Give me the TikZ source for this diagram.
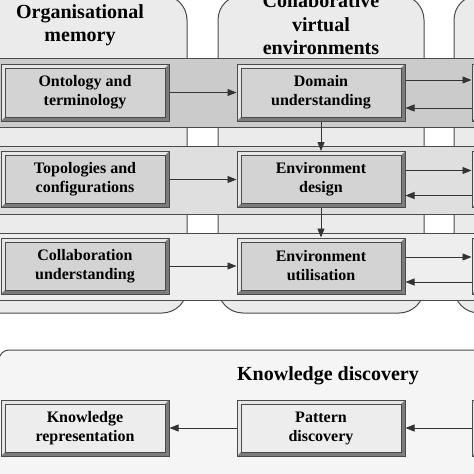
\documentclass[tikz,border=0pt]{standalone}
\usepackage{fontspec}
\setmainfont{Liberation Serif}
\usetikzlibrary{arrows.meta}
\definecolor{colfill}{HTML}{EBEBEB}
\definecolor{bandA}{HTML}{CBCBCB}
\definecolor{bandB}{HTML}{DFDFDF}
\definecolor{bandC}{HTML}{EEEEEE}
\definecolor{boxdark}{HTML}{D3D3D3}
\definecolor{boxlight}{HTML}{EDEDED}
\definecolor{kdfill}{HTML}{F5F5F5}
\definecolor{linec}{HTML}{4A4A4A}
\definecolor{bevlt}{HTML}{E6E6E6}
\definecolor{bevdk}{HTML}{7B7B7B}
\newcommand{\boxfont}{\bfseries\fontsize{16}{19}\selectfont}
\newcommand{\titfont}{\bfseries\fontsize{20}{23.5}\selectfont}
\tikzset{
  colpanel/.style={draw=linec, line width=1pt, fill=colfill, rounded corners=25pt},
  bandrect/.style={draw=linec, line width=1pt, fill=#1},
  kdpanel/.style={draw=linec, line width=1pt, fill=kdfill, rounded corners=10pt},
  bevbox/.style={rectangle, draw=linec, line width=1pt, fill=#1,
    minimum width=168pt, minimum height=56pt, inner sep=0pt, align=center,
    font=\boxfont,
    path picture={
      \fill[bevlt] (path picture bounding box.north west) -- (path picture bounding box.north east)
        -- ([xshift=-4pt,yshift=-4pt]path picture bounding box.north east)
        -- ([xshift=4pt,yshift=-4pt]path picture bounding box.north west) -- cycle;
      \fill[bevlt] (path picture bounding box.north west) -- (path picture bounding box.south west)
        -- ([xshift=4pt,yshift=4pt]path picture bounding box.south west)
        -- ([xshift=4pt,yshift=-4pt]path picture bounding box.north west) -- cycle;
      \fill[bevdk] (path picture bounding box.north east) -- (path picture bounding box.south east)
        -- ([xshift=-4pt,yshift=4pt]path picture bounding box.south east)
        -- ([xshift=-4pt,yshift=-4pt]path picture bounding box.north east) -- cycle;
      \fill[bevdk] (path picture bounding box.south west) -- (path picture bounding box.south east)
        -- ([xshift=-4pt,yshift=4pt]path picture bounding box.south east)
        -- ([xshift=4pt,yshift=4pt]path picture bounding box.south west) -- cycle;
      \draw[linec, line width=0.8pt] ([xshift=4pt,yshift=-4pt]path picture bounding box.north west)
        rectangle ([xshift=-4pt,yshift=4pt]path picture bounding box.south east);
    }},
  title/.style={font=\titfont, align=center, inner sep=0pt},
  arr/.style={draw=black!80, line width=0.9pt, -{Triangle[length=9pt,width=7pt]}}
}
\begin{document}
\begin{tikzpicture}[x=1pt,y=-1pt]
\useasboundingbox (0,0) rectangle (474,474);
\clip (0,0) rectangle (474,474);
% column panels
\path[colpanel] (-40,-5) rectangle (187,313);
\path[colpanel] (218,-5) rectangle (424,313);
\path[colpanel] (454,-5) rectangle (700,313);
% bands
\path[bandrect=bandA] (-10,58) rectangle (490,127);
\path[bandrect=bandB] (-10,146) rectangle (490,214);
\path[bandrect=bandC] (-10,233) rectangle (490,300);
% knowledge discovery panel
\path[kdpanel] (-1,350) rectangle (700,700);
% titles
\node[title] (tom) at (80,25.3) {Organisational\\memory};
\node[title] (tcve) at (321,24.5) {Collaborative\\virtual\\environments};
\node[title] (tkd) at (328,375.3) {Knowledge discovery};
% boxes
\node[bevbox=boxdark, minimum height=57pt] (ont) at (85,92.5) {Ontology and\\terminology};
\node[bevbox=boxdark, minimum height=57pt] (dom) at (321,92.5) {Domain\\understanding};
\node[bevbox=boxdark, minimum height=57pt] (r1) at (556,92.5) {};
\node[bevbox=boxdark] (top) at (85,179.5) {Topologies and\\configurations};
\node[bevbox=boxdark] (envd) at (321,179.5) {Environment\\design};
\node[bevbox=boxdark] (r2) at (556,179.5) {};
\node[bevbox=boxdark] (col) at (85,266) {Collaboration\\understanding};
\node[bevbox=boxdark] (envu) at (321,266) {Environment\\utilisation};
\node[bevbox=boxdark] (r3) at (556,266) {};
\node[bevbox=boxlight] (kr) at (85,428) {Knowledge\\representation};
\node[bevbox=boxlight] (pat) at (321,428) {Pattern\\discovery};
\node[bevbox=boxdark] (r4) at (556,428) {};
% arrows
\draw[arr] (ont.east) -- (dom.west);
\draw[arr] ([yshift=12.5pt]dom.east) -- ([yshift=12.5pt]r1.west);
\draw[arr] ([yshift=-15.5pt]r1.west) -- ([yshift=-15.5pt]dom.east);
\draw[arr] (dom.south) -- (envd.north);
\draw[arr] (top.east) -- (envd.west);
\draw[arr] ([yshift=9pt]envd.east) -- ([yshift=9pt]r2.west);
\draw[arr] ([yshift=-16pt]r2.west) -- ([yshift=-16pt]envd.east);
\draw[arr] (envd.south) -- (envu.north);
\draw[arr] (col.east) -- (envu.west);
\draw[arr] ([yshift=9pt]envu.east) -- ([yshift=9pt]r3.west);
\draw[arr] ([yshift=-16pt]r3.west) -- ([yshift=-16pt]envu.east);
\draw[arr] (pat.west) -- (kr.east);
\draw[arr] (r4.west) -- (pat.east);
\end{tikzpicture}
\end{document}
